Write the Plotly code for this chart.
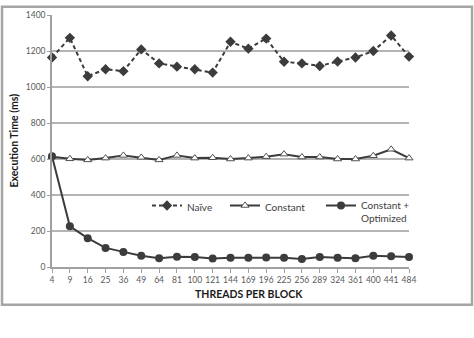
import plotly.graph_objects as go

threads = ["4", "9", "16", "25", "36", "49", "64", "81", "100", "121", "144",
           "169", "196", "225", "256", "289", "324", "361", "400", "441", "484"]
naive = [1164, 1273, 1060, 1099, 1088, 1209, 1131, 1113, 1099, 1080, 1251,
         1213, 1269, 1140, 1131, 1117, 1142, 1164, 1200, 1286, 1169]
constant = [613, 601, 595, 605, 620, 609, 595, 620, 605, 607, 600,
            605, 613, 627, 611, 611, 600, 600, 618, 654, 605]
const_opt = [615, 226, 160, 106, 84, 62, 49, 57, 55, 47, 51,
             51, 53, 51, 44, 55, 51, 49, 62, 60, 55]

W, H = 474, 338
L, R, T, B = 52, 65, 10, 71
PW = W - L - R
PH = H - T - B

def px(x):
    return (x - L) / PW

def py(y):
    return (H - B - y) / PH

dark = "#3c3c3c"
FONT = "Lato"

fig = go.Figure()
fig.add_trace(go.Scatter(
    x=threads, y=naive, name="Naïve", mode="lines+markers",
    line=dict(color=dark, width=2, dash="4px,3px"),
    marker=dict(symbol="diamond", size=8, color=dark),
    cliponaxis=False, legend="legend", showlegend=True))
fig.add_trace(go.Scatter(
    x=threads, y=constant, name="Constant", mode="lines+markers",
    line=dict(color=dark, width=2),
    marker=dict(symbol="triangle-up", size=7, color="white",
                line=dict(color="#505050", width=1)),
    cliponaxis=False, legend="legend2", showlegend=True))
fig.add_trace(go.Scatter(
    x=threads, y=const_opt, name="Constant +<br>Optimized", mode="lines+markers",
    line=dict(color=dark, width=2),
    marker=dict(symbol="circle", size=8, color=dark),
    cliponaxis=False, legend="legend3", showlegend=True))

legfont = dict(family=FONT, size=10, color="#404040")
leg_common = dict(orientation="h", yanchor="top", xanchor="left",
                  bgcolor="rgba(0,0,0,0)", font=legfont, valign="top",
                  itemwidth=30, tracegroupgap=0, visible=True)
fig.update_layout(
    showlegend=True,
    legend=dict(x=px(147), y=py(191), **leg_common),
    legend2=dict(x=px(225), y=py(191), **leg_common),
    legend3=dict(x=px(321), y=py(191), **leg_common),
)

fig.update_layout(
    width=W, height=H,
    margin=dict(l=L, r=R, t=T, b=B, pad=0),
    paper_bgcolor="white", plot_bgcolor="white",
    font=dict(family=FONT, color="#595959"),
    xaxis=dict(type="category", range=[0, 20], showgrid=False,
               showline=True, linecolor="#a0a0a0", linewidth=1.5,
               ticks="outside", ticklen=4, tickcolor="#a0a0a0",
               tickfont=dict(family=FONT, size=8.5, color="#595959"),
               zeroline=False),
    yaxis=dict(range=[0, 1400], dtick=200, showgrid=True,
               gridcolor="#b4b4b4", gridwidth=1.5,
               showline=True, linecolor="#a0a0a0", linewidth=1.5,
               ticks="outside", ticklen=3, tickcolor="#a0a0a0",
               tickfont=dict(family=FONT, size=8.5, color="#595959"),
               zeroline=False),
    shapes=[dict(type="rect", xref="paper", yref="paper",
                 x0=px(2), x1=px(472), y0=py(305.5), y1=py(1.5),
                 line=dict(color="#a6a6a6", width=2.5), layer="below")],
    annotations=[
        dict(text="<b>THREADS PER BLOCK</b>", xref="paper", yref="paper",
             x=px(249), y=py(295), xanchor="center", yanchor="middle",
             showarrow=False, font=dict(family=FONT, size=10.5, color="#1a1a1a")),
        dict(text="<b>Execution Time (ms)</b>", xref="paper", yref="paper",
             x=px(14), y=py(138), xanchor="center", yanchor="middle",
             textangle=-90, showarrow=False,
             font=dict(family=FONT, size=10.5, color="#1a1a1a")),
    ],
)

fig.write_html("out.html")
